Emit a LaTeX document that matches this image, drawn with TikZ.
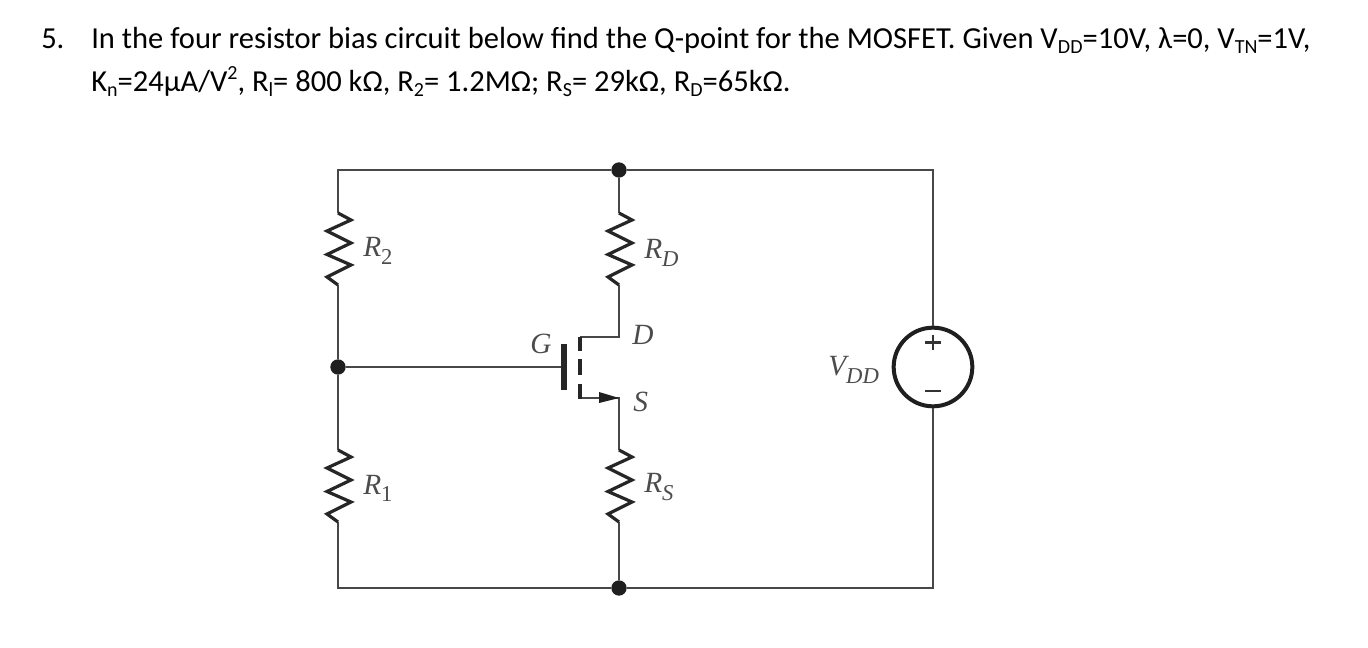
\documentclass[tikz,border=0pt]{standalone}
\usepackage{fontspec}
\setmainfont{Carlito}
\newfontfamily\circfont{Liberation Serif}
\usetikzlibrary{arrows.meta}
\newcommand{\lo}[1]{\raisebox{-0.16em}{\fontsize{15}{15}\selectfont #1}}
\newcommand{\hi}[1]{\raisebox{0.42em}{\fontsize{15}{15}\selectfont #1}}
\newcommand{\cirlbl}[2]{{\circfont\itshape #1\raisebox{-0.24em}{\fontsize{17}{17}\selectfont #2}}}
\newcommand{\cirnum}[2]{{\circfont\itshape #1\raisebox{-0.24em}{\fontsize{17}{17}\selectfont\upshape #2}}}
\tikzset{
  wire/.style={draw=black!72,line width=1.4pt,line join=miter},
  zig/.style={draw=black!85,line width=2.4pt,line join=miter},
  dot/.style={circle,fill=black!88,minimum size=11.5pt,inner sep=0pt},
  textline/.style={anchor=base west,inner sep=0pt,font=\fontsize{22.9}{23}\selectfont,text=black},
  circ/.style={inner sep=0pt,text=black!70,font=\fontsize{22}{22}\selectfont},
  srcnode/.style={circle,draw=black!88,line width=3pt,minimum size=59pt,inner sep=0pt}
}
\begin{document}
\begin{tikzpicture}[x=0.75pt,y=-0.75pt]
\useasboundingbox (0,0) rectangle (1368,648);
% question text
\node[textline] (num) at (41,49) {5.};
\node[textline] (l1) at (91,49) {In the four resistor bias circuit below find the Q-point for the MOSFET. Given V\lo{DD}=10V, λ=0, V\lo{TN}=1V,};
\node[textline] (l2) at (91,92) {K\lo{n}=24µA/V\hi{2}, R\lo{l}= 800 kΩ, R\lo{2}= 1.2MΩ; R\lo{S}= 29kΩ, R\lo{D}=65kΩ.};
% junctions and corners
\node[dot] (top) at (619,170) {};
\node[dot] (bot) at (619,588) {};
\node[dot] (mid) at (338,367) {};
\coordinate (tl) at (338,170);
\coordinate (tr) at (933,170);
\coordinate (bl) at (338,588);
\coordinate (br) at (933,588);
\coordinate (R2t) at (338,213);
\coordinate (R2b) at (338,285);
\coordinate (R1t) at (338,450);
\coordinate (R1b) at (338,522);
\coordinate (RDt) at (619,213);
\coordinate (RDb) at (619,285);
\coordinate (RSt) at (619,450);
\coordinate (RSb) at (619,522);
\coordinate (gate) at (564,367);
\coordinate (gt) at (564,344);
\coordinate (gb) at (564,390);
\coordinate (dch) at (580,337);
\coordinate (sch) at (580,398);
\coordinate (dc) at (619,337);
\coordinate (sc) at (619,398);
\node[srcnode] (vs) at (933,367) {};
% wires
\draw[wire] (R2t) -- (tl) -- (top) -- (tr) -- (vs);
\draw[wire] (vs) -- (br) -- (bot) -- (bl) -- (R1b);
\draw[wire] (R2b) -- (mid) -- (R1t);
\draw[wire] (mid) -- (gate);
\draw[wire] (top) -- (RDt);
\draw[wire] (RDb) -- (dc) -- (dch);
\draw[wire] (sch) -- (sc) -- (RSt);
\draw[wire] (RSb) -- (bot);
% resistors
\foreach \n in {R2,R1,RD,RS}
  \draw[zig] (\n t) -- ++(13,7) -- ++(-24,11) -- ++(24,12) -- ++(-24,11.5) -- ++(24,10.5) -- ++(-24,12) -- (\n b);
% MOSFET
\draw[black!85,line width=3.8pt] (gt) -- (gb);
\draw[black!85,line width=3pt] (580,337) -- (580,351);
\draw[black!85,line width=3pt] (580,359) -- (580,375);
\draw[black!85,line width=3pt] (580,384) -- (580,399);
\fill[black!88] (619,398) -- (599,392) -- (599,403) -- cycle;
% source marks
\draw[black!80,line width=1.8pt] (925,342.5) -- (941,342.5) (933,335) -- (933,350);
\draw[black!80,line width=1.8pt] (925,391) -- (941,391);
% labels
\node[circ,anchor=base west] (lR2) at (363,257) {\cirnum{R}{2}};
\node[circ,anchor=base west] (lR1) at (363,494) {\cirnum{R}{1}};
\node[circ,anchor=base west] (lRD) at (644,259) {\cirlbl{R}{D}};
\node[circ,anchor=base west] (lRS) at (644,493) {\cirlbl{R}{S}};
\node[circ,anchor=base west] (lG) at (530,354) {\circfont\itshape G};
\node[circ,anchor=base west] (lD) at (632,345) {\circfont\itshape D};
\node[circ,anchor=base west] (lS) at (633,412) {\circfont\itshape S};
\node[circ,anchor=base west] (lV) at (828,376) {\cirlbl{V}{DD}};
\end{tikzpicture}
\end{document}
